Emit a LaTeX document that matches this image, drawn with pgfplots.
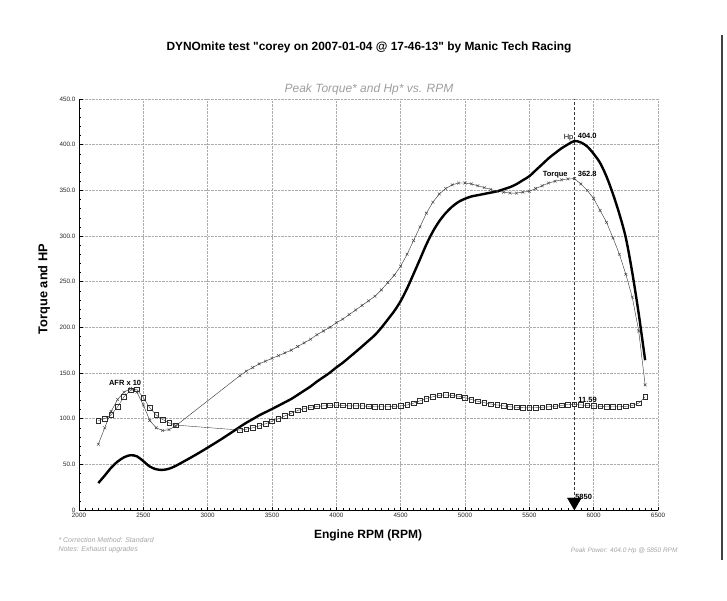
\documentclass[border=0pt]{standalone}
\usepackage{fontspec}
\setmainfont{Liberation Sans}
\usepackage{pgfplots}
\pgfplotsset{compat=1.18}
\font\qfb="Liberation Sans/B" at 11.9pt
\begin{document}
\begin{tikzpicture}[x=1pt,y=1pt]
\path[use as bounding box] (0,0) rectangle (727,600);
\fill[white] (0,0) rectangle (727,600);
\begin{axis}[
  at={(79pt,90pt)}, anchor=south west,
  scale only axis, width=579pt, height=411pt,
  xmin=2000, xmax=6500, ymin=0, ymax=450,
  axis x line*=bottom, axis y line*=left,
  axis line style={black, line width=0.5pt},
  xtick={2000,2500,3000,3500,4000,4500,5000,5500,6000,6500},
  xticklabels={2000,2500,3000,3500,4000,4500,5000,5500,6000,6500},
  ytick={0,50,100,150,200,250,300,350,400,450},
  yticklabels={0,50.0,100.0,150.0,200.0,250.0,300.0,350.0,400.0,450.0},
  minor x tick num=9, minor y tick num=4,
  grid=major,
  major grid style={gray!65, densely dotted, line width=0.5pt},
  tick style={black, line width=0.4pt},
  major tick length=3.5pt, minor tick length=2pt,
  tick label style={font=\fontsize{6.3}{7}\selectfont, text=black!85},
]
\draw[gray!45!black, line width=0.4pt, dash pattern=on 3pt off 2pt] (axis cs:5850,0) -- (axis cs:5850,450);

% AFR x 10
\addplot[gray!50!black, line width=0.4pt, mark=square, mark size=2.3pt, mark options={gray!35!black, line width=0.5pt, solid}] coordinates {
(2150,98) (2200,100) (2250,104) (2300,113) (2350,124) (2400,131) (2450,132) (2500,123) (2550,112) (2600,104) (2650,99) (2700,95.5) (2750,93)
(3250,87.5) (3300,88.5) (3350,90) (3400,92) (3450,94.5) (3500,97) (3550,100) (3600,103) (3650,106) (3700,109) (3750,111) (3800,112.5) (3850,113.5) (3900,114) (3950,114.5) (4000,115) (4050,114.5) (4100,114) (4150,114) (4200,114) (4250,113.5) (4300,113) (4350,113) (4400,113) (4450,113.5) (4500,114) (4550,115) (4600,117) (4650,119.5) (4700,122) (4750,124) (4800,125.5) (4850,126) (4900,125.5) (4950,124.5) (5000,123) (5050,121) (5100,119) (5150,117.5) (5200,116) (5250,115) (5300,114) (5350,113) (5400,112.5) (5450,112) (5500,112) (5550,112) (5600,112.5) (5650,113) (5700,113.5) (5750,114.5) (5800,115.5) (5850,115.9) (5900,115) (5950,114.5) (6000,114) (6050,113.5) (6100,113) (6150,113) (6200,113) (6250,113.5) (6300,114.5) (6350,117) (6400,124)
};

% Torque
\addplot[gray!50!black, line width=0.45pt, mark=x, mark size=2pt, mark options={gray!50!black, line width=0.4pt, solid}] coordinates {
(2150,72) (2200,90) (2250,108) (2300,121) (2350,129) (2400,133) (2450,129) (2500,115) (2550,98) (2600,90) (2650,87) (2700,88) (2750,92)
(3250,147) (3300,152) (3350,156) (3400,160) (3450,163) (3500,166) (3550,169) (3600,172) (3650,175) (3700,179) (3750,183) (3800,187) (3850,192) (3900,196) (3950,200) (4000,205) (4050,209) (4100,214) (4150,219) (4200,224) (4250,229) (4300,234) (4350,241) (4400,249) (4450,257) (4500,267) (4550,280) (4600,295) (4650,310) (4700,325) (4750,337) (4800,346) (4850,352) (4900,356) (4950,358) (5000,358) (5050,357) (5100,355) (5150,353) (5200,351) (5250,349) (5300,348) (5350,347) (5400,347) (5450,348) (5500,349) (5550,352) (5600,355) (5650,358) (5700,360) (5750,361.5) (5800,362.5) (5850,362.8) (5900,357) (5950,350) (6000,341) (6050,328) (6100,315) (6150,298) (6200,280) (6250,258) (6300,233) (6350,196) (6400,137)
};

% Hp
\addplot[black, line width=2.4pt, smooth] coordinates {
(2150,29.5) (2200,37.7) (2250,46.3) (2300,53.0) (2350,57.7) (2400,60.0) (2450,58.8) (2500,53.5) (2550,47.6) (2600,44.6) (2650,43.9) (2700,45.2) (2750,48.2)
(2800,52.0) (2850,55.9) (2900,59.9) (2950,64.0) (3000,68.3) (3050,72.6) (3100,77.0) (3150,81.6) (3200,86.2) (3250,91.0)
(3300,95.5) (3350,99.5) (3400,103.6) (3450,107.1) (3500,110.6) (3550,114.2) (3600,117.9) (3650,121.6) (3700,126.1) (3750,130.7) (3800,135.3) (3850,140.7) (3900,145.5) (3950,150.4) (4000,156.1) (4050,161.2) (4100,167.1) (4150,173.0) (4200,179.1) (4250,185.3) (4300,191.6) (4350,199.6) (4400,208.6) (4450,217.8) (4500,228.8) (4550,242.6) (4600,258.4) (4650,274.5) (4700,290.8) (4750,304.8) (4800,316.2) (4850,325.1) (4900,332.1) (4950,337.4) (5000,340.8) (5050,343.3) (5100,344.7) (5150,346.1) (5200,347.5) (5250,348.9) (5300,351.2) (5350,353.5) (5400,356.8) (5450,361.1) (5500,365.5) (5550,372.0) (5600,378.5) (5650,385.1) (5700,390.7) (5750,396.0) (5800,400.3) (5850,404.0) (5900,402.5) (5950,398) (6000,390) (6050,380) (6100,365) (6150,346) (6200,324) (6250,298) (6300,260) (6350,215) (6400,164)
};

% peak marker
\addplot[only marks, mark=triangle*, mark size=8pt, mark options={black, rotate=180}] coordinates {(5850,8.8)};

\node[font=\bfseries\fontsize{7.5}{8}\selectfont] at (axis cs:2358,139) {AFR x 10};
\node[font=\fontsize{7.5}{8}\selectfont] at (axis cs:5805,408) {Hp};
\node[font=\bfseries\fontsize{7.5}{8}\selectfont] at (axis cs:5950,410) {404.0};
\node[font=\bfseries\fontsize{7.5}{8}\selectfont] at (axis cs:5701,367.5) {Torque};
\node[font=\bfseries\fontsize{7.5}{8}\selectfont] at (axis cs:5950,367.5) {362.8};
\node[font=\bfseries\fontsize{7.5}{8}\selectfont] at (axis cs:5953,121) {11.59};
\node[font=\bfseries\fontsize{7.5}{8}\selectfont] at (axis cs:5922,14.6) {5850};
\end{axis}

\node[font=\bfseries\fontsize{11.9}{13}\selectfont] at (369,553) {DYNOmite test {\qfb"}corey on 2007-01-04 @ 17-46-13{\qfb"} by Manic Tech Racing};
\node[font=\itshape\fontsize{12}{14}\selectfont, text=gray!75] at (369,511) {Peak Torque* and Hp* vs. RPM};
\node[font=\bfseries\fontsize{12}{14}\selectfont] at (368,65) {Engine RPM (RPM)};
\node[rotate=90, font=\bfseries\fontsize{12.8}{14}\selectfont] at (44,311) {Torque and HP};
\node[anchor=west, font=\itshape\fontsize{7}{8}\selectfont, text=gray!70] at (55,60) {* Correction Method: Standard};
\node[anchor=west, font=\itshape\fontsize{7}{8}\selectfont, text=gray!70] at (55,50) {Notes: Exhaust upgrades};
\node[anchor=east, font=\itshape\fontsize{6.5}{7}\selectfont, text=gray!70] at (681,49) {Peak Power: 404.0 Hp @ 5850 RPM};
\draw[black!75, line width=1.2pt] (722,40) -- (722,565);
\end{tikzpicture}
\end{document}
